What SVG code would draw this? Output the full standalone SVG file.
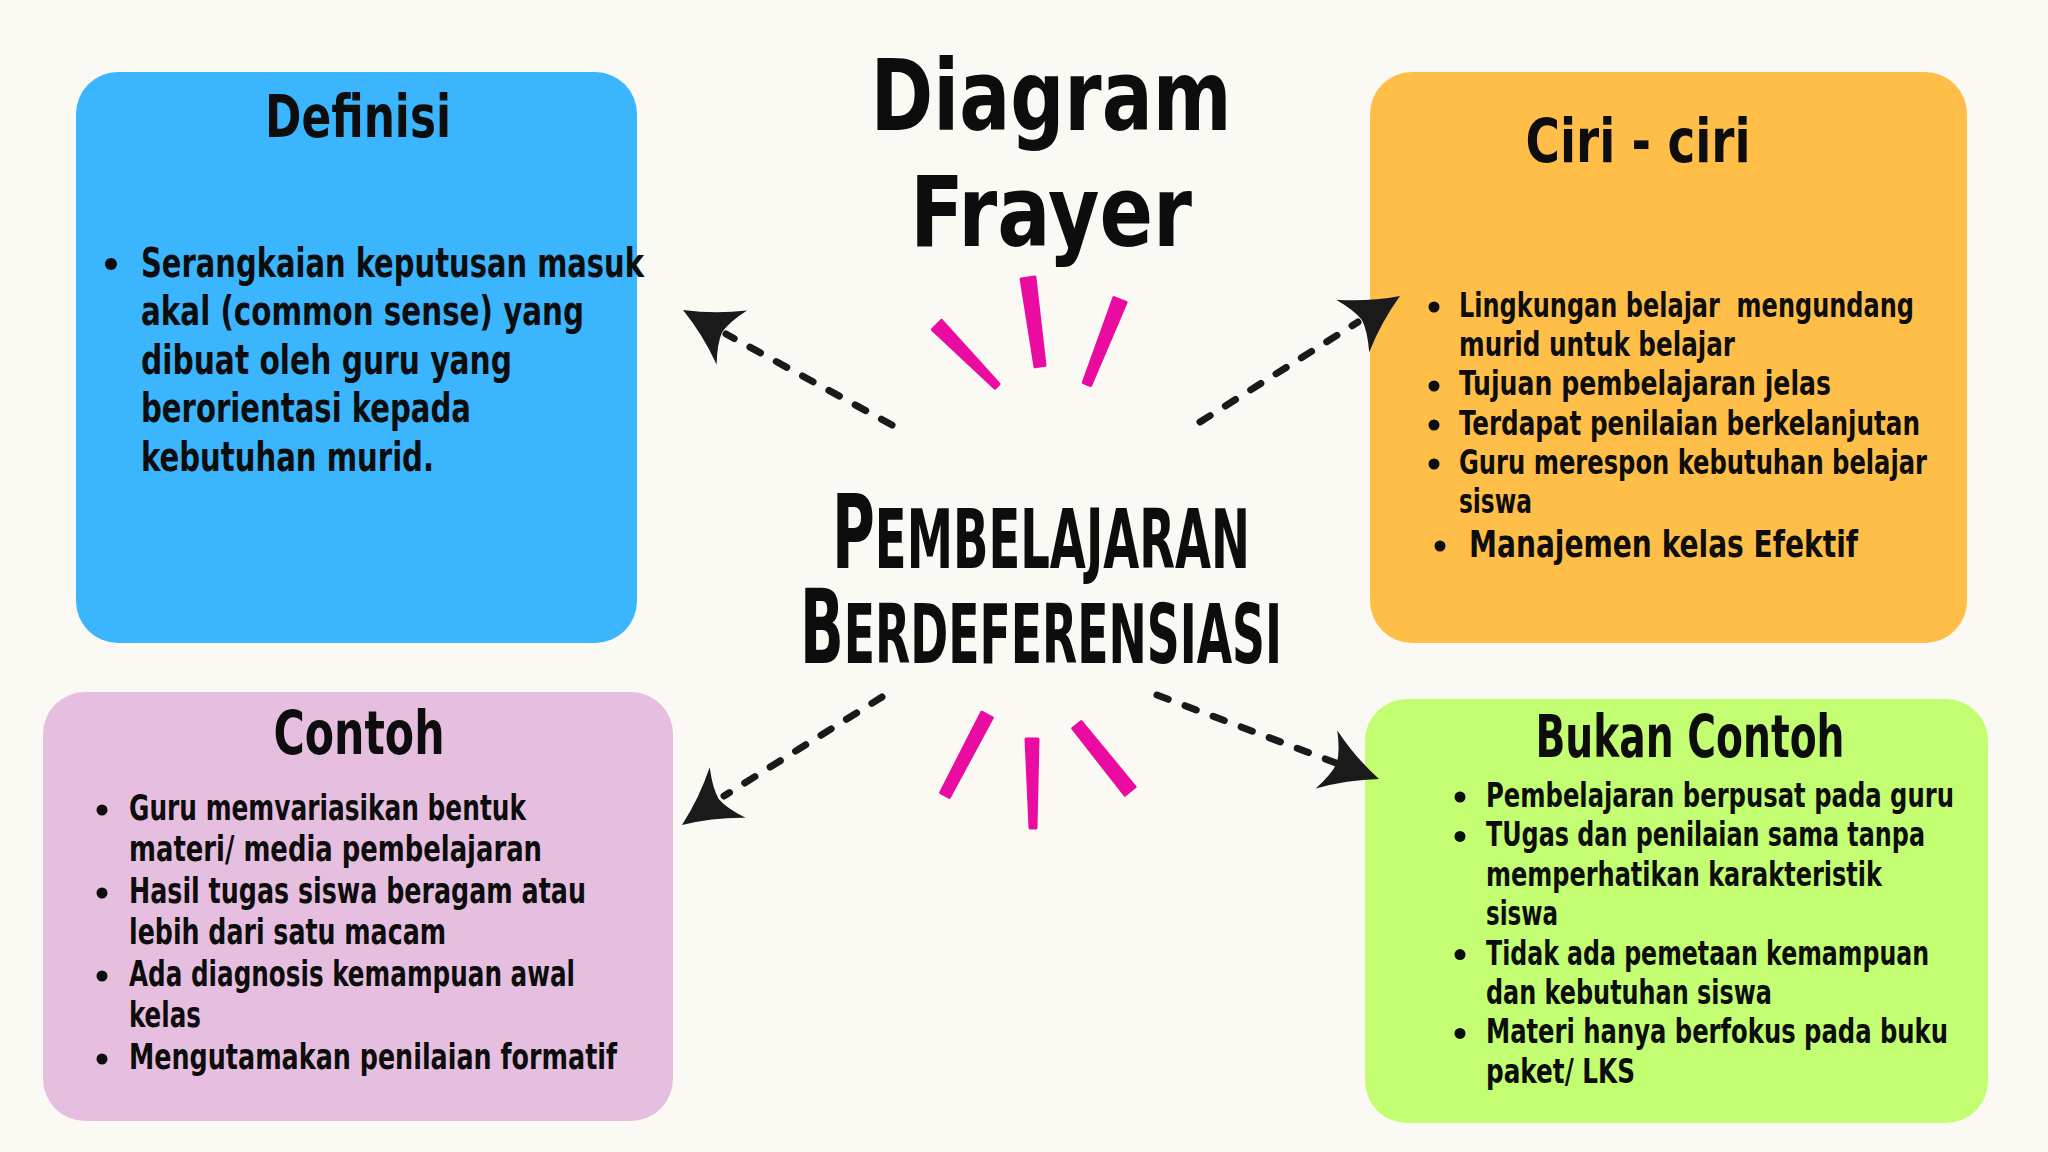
<svg xmlns="http://www.w3.org/2000/svg" width="2048" height="1152" viewBox="0 0 2048 1152">
<defs>
<style>
.bg{fill:#FBF9F4}
.t{font-family:"DejaVu Sans Condensed","DejaVu Sans","Liberation Sans",sans-serif;font-weight:bold;fill:#0d0d0d}
.h{font-family:"DejaVu Sans Condensed","DejaVu Sans","Liberation Sans",sans-serif;font-weight:bold;fill:#0d0d0d;text-anchor:middle}
.dot{fill:#0d0d0d}
.dash{fill:none;stroke:#1a1a1a;stroke-width:7;stroke-linecap:round;stroke-dasharray:12 18}
.head{fill:#1a1a1a}
.pink{fill:#EA0BA1;stroke:#EA0BA1;stroke-width:3;stroke-linejoin:round}
</style>
<path id="ah" d="M0,0 Q-30,-12 -56,-31 Q-46,-12 -45,0 Q-46,12 -56,31 Q-30,12 0,0 Z"/>
</defs>
<rect class="bg" x="0" y="0" width="2048" height="1152"/>

<g id="title">
<text class="h" font-size="98" transform="translate(1051,0) scale(0.8,1)"><tspan x="0" y="130" textLength="451.3" lengthAdjust="spacingAndGlyphs">Diagram</tspan><tspan x="0" y="246" textLength="352.5" lengthAdjust="spacingAndGlyphs">Frayer</tspan></text>
</g>

<g id="center">
<text class="h" font-size="82" transform="translate(1041,0) scale(0.7,1)"><tspan x="0" y="568" textLength="597.1" lengthAdjust="spacingAndGlyphs"><tspan font-size="103">P</tspan>EMBELAJARAN</tspan><tspan x="0" y="663" textLength="688.6" lengthAdjust="spacingAndGlyphs"><tspan font-size="103">B</tspan>ERDEFERENSIASI</tspan></text>
</g>

<g id="definisi">
<rect x="76" y="72" width="561" height="571" rx="42" fill="#3AB5FE"/>
<text class="h" font-size="58" transform="translate(358,0) scale(0.8,1)"><tspan x="0" y="137" textLength="232.5" lengthAdjust="spacingAndGlyphs">Definisi</tspan></text>
<circle class="dot" cx="111" cy="264" r="6"/>
<text class="t" font-size="41.5" transform="translate(141,0) scale(0.75,1)"><tspan x="0" y="277" textLength="670.7" lengthAdjust="spacingAndGlyphs">Serangkaian keputusan masuk</tspan><tspan x="0" y="325.5" textLength="590.7" lengthAdjust="spacingAndGlyphs">akal (common sense) yang</tspan><tspan x="0" y="374" textLength="494.7" lengthAdjust="spacingAndGlyphs">dibuat oleh guru yang</tspan><tspan x="0" y="422.5" textLength="440" lengthAdjust="spacingAndGlyphs">berorientasi kepada</tspan><tspan x="0" y="471" textLength="390.7" lengthAdjust="spacingAndGlyphs">kebutuhan murid.</tspan></text>
</g>

<g id="ciri">
<rect x="1370" y="72" width="597" height="571" rx="42" fill="#FEBE48"/>
<text class="h" font-size="60" transform="translate(1638,0) scale(0.8,1)"><tspan x="0" y="162" textLength="281.3" lengthAdjust="spacingAndGlyphs">Ciri - ciri</tspan></text>
<circle class="dot" cx="1434" cy="307" r="5.5"/>
<circle class="dot" cx="1434" cy="386" r="5.5"/>
<circle class="dot" cx="1434" cy="425" r="5.5"/>
<circle class="dot" cx="1434" cy="464" r="5.5"/>
<circle class="dot" cx="1440" cy="546" r="5.5"/>
<text class="t" font-size="33.6" transform="translate(1459,0) scale(0.75,1)"><tspan x="0" y="317" textLength="606.7" lengthAdjust="spacingAndGlyphs" style="white-space:pre">Lingkungan belajar  mengundang</tspan><tspan x="0" y="356.2" textLength="368" lengthAdjust="spacingAndGlyphs">murid untuk belajar</tspan><tspan x="0" y="395.4" textLength="496" lengthAdjust="spacingAndGlyphs">Tujuan pembelajaran jelas</tspan><tspan x="0" y="434.6" textLength="614.7" lengthAdjust="spacingAndGlyphs">Terdapat penilaian berkelanjutan</tspan><tspan x="0" y="473.8" textLength="624" lengthAdjust="spacingAndGlyphs">Guru merespon kebutuhan belajar</tspan><tspan x="0" y="513" textLength="97.3" lengthAdjust="spacingAndGlyphs">siswa</tspan></text>
<text class="t" font-size="38" transform="translate(1469,0) scale(0.75,1)"><tspan x="0" y="557" textLength="518.7" lengthAdjust="spacingAndGlyphs">Manajemen kelas Efektif</tspan></text>
</g>

<g id="contoh">
<rect x="43" y="692" width="630" height="429" rx="42" fill="#E6BFE0"/>
<text class="h" font-size="60" transform="translate(359,0) scale(0.8,1)"><tspan x="0" y="754" textLength="213.8" lengthAdjust="spacingAndGlyphs">Contoh</tspan></text>
<circle class="dot" cx="102" cy="810" r="5.5"/>
<circle class="dot" cx="102" cy="893" r="5.5"/>
<circle class="dot" cx="102" cy="976" r="5.5"/>
<circle class="dot" cx="102" cy="1059" r="5.5"/>
<text class="t" font-size="35" transform="translate(129,0) scale(0.75,1)"><tspan x="0" y="820" textLength="529.3" lengthAdjust="spacingAndGlyphs">Guru memvariasikan bentuk</tspan><tspan x="0" y="861.5" textLength="550.7" lengthAdjust="spacingAndGlyphs">materi/ media pembelajaran</tspan><tspan x="0" y="903" textLength="609.3" lengthAdjust="spacingAndGlyphs">Hasil tugas siswa beragam atau</tspan><tspan x="0" y="944.5" textLength="422.7" lengthAdjust="spacingAndGlyphs">lebih dari satu macam</tspan><tspan x="0" y="986" textLength="594.7" lengthAdjust="spacingAndGlyphs">Ada diagnosis kemampuan awal</tspan><tspan x="0" y="1027.5" textLength="96" lengthAdjust="spacingAndGlyphs">kelas</tspan><tspan x="0" y="1069" textLength="650.7" lengthAdjust="spacingAndGlyphs">Mengutamakan penilaian formatif</tspan></text>
</g>

<g id="bukan-contoh">
<rect x="1365" y="699" width="623" height="424" rx="42" fill="#C2FD72"/>
<text class="h" font-size="58" transform="translate(1690,0) scale(0.8,1)"><tspan x="0" y="757" textLength="386.3" lengthAdjust="spacingAndGlyphs">Bukan Contoh</tspan></text>
<circle class="dot" cx="1460" cy="797" r="5.5"/>
<circle class="dot" cx="1460" cy="836.4" r="5.5"/>
<circle class="dot" cx="1460" cy="954.6" r="5.5"/>
<circle class="dot" cx="1460" cy="1033.4" r="5.5"/>
<text class="t" font-size="33.8" transform="translate(1486,0) scale(0.75,1)"><tspan x="0" y="807" textLength="624" lengthAdjust="spacingAndGlyphs">Pembelajaran berpusat pada guru</tspan><tspan x="0" y="846.4" textLength="585.3" lengthAdjust="spacingAndGlyphs">TUgas dan penilaian sama tanpa</tspan><tspan x="0" y="885.8" textLength="528" lengthAdjust="spacingAndGlyphs">memperhatikan karakteristik</tspan><tspan x="0" y="925.2" textLength="96" lengthAdjust="spacingAndGlyphs">siswa</tspan><tspan x="0" y="964.6" textLength="590.7" lengthAdjust="spacingAndGlyphs">Tidak ada pemetaan kemampuan</tspan><tspan x="0" y="1004" textLength="381.3" lengthAdjust="spacingAndGlyphs">dan kebutuhan siswa</tspan><tspan x="0" y="1043.4" textLength="616" lengthAdjust="spacingAndGlyphs">Materi hanya berfokus pada buku</tspan><tspan x="0" y="1082.8" textLength="198.7" lengthAdjust="spacingAndGlyphs">paket/ LKS</tspan></text>
</g>

<g id="sparks">
<path class="pink" d="M941.6,320.4 L999.1,383.9 L994.9,388.1 L932.4,329.6 Z"/>
<path class="pink" d="M1034.9,277.1 L1045,365.3 L1035,366.7 L1021.1,279 Z"/>
<path class="pink" d="M1113.9,297.6 L1126.1,302.4 L1090.7,385.5 L1083.3,382.5 Z"/>
<path class="pink" d="M981.7,712.2 L992.3,717.8 L949.4,797.3 L940.6,792.7 Z"/>
<path class="pink" d="M1026,739 L1038,739 L1036,828 L1030,828 Z"/>
<path class="pink" d="M1081.3,721.6 L1135.1,786.9 L1124.9,795.1 L1072.7,728.4 Z"/>
</g>

<g id="connectors">
<line class="dash" x1="892" y1="425" x2="726" y2="334"/>
<line class="dash" x1="1200" y1="422" x2="1358" y2="322"/>
<line class="dash" x1="882" y1="697" x2="724" y2="796"/>
<line class="dash" x1="1157" y1="695" x2="1336" y2="763"/>
<use href="#ah" class="head" transform="translate(683,310) rotate(-150.6)"/>
<use href="#ah" class="head" transform="translate(1400,296) rotate(-32.3)"/>
<use href="#ah" class="head" transform="translate(682,825) rotate(144.6)"/>
<use href="#ah" class="head" transform="translate(1379,779) rotate(20.4)"/>
</g>
</svg>
